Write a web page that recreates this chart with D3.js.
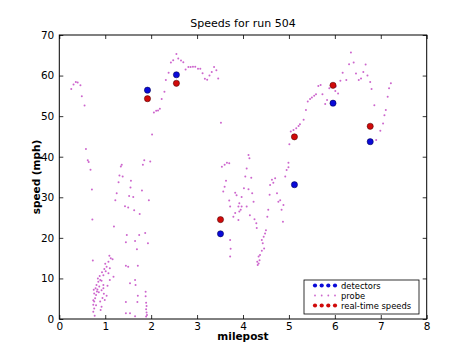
<!DOCTYPE html>
<html><head><meta charset="utf-8">
<script src="https://cdn.jsdelivr.net/npm/d3@7"></script>
<style>body{margin:0;background:#fff}svg{display:block;font-family:"DejaVu Sans",sans-serif}</style>
</head><body><svg id="c" width="474" height="355"></svg>
<script>
const xTicks=[0,1,2,3,4,5,6,7,8];
const yTicks=[0,10,20,30,40,50,60,70];
const detX=[1.92,2.55,3.51,5.12,5.96,6.77];
const detY=[56.4,60.2,21.0,33.1,53.2,43.7];
const rtX=[1.92,2.55,3.51,5.12,5.96,6.77];
const rtY=[54.3,58.1,24.5,44.9,57.6,47.5];
const probeX=[0.26,0.31,0.36,0.40,0.46,0.49,0.55,0.58,0.62,0.64,0.68,0.71,0.72,0.73,0.76,
1.09,1.12,1.16,1.07,1.03,1.10,1.01,1.07,0.96,0.89,0.92,0.85,0.81,0.87,0.83,0.92,0.96,0.80,0.78,0.76,0.74,0.76,0.74,0.89,0.92,0.99,1.03,1.10,1.18,0.96,
0.84,0.88,0.93,0.98,1.00,0.86,0.82,0.79,0.75,0.77,0.90,0.94,0.97,1.05,0.80,0.74,
1.25,1.22,1.29,1.31,1.34,1.36,1.38,1.43,1.47,1.45,1.19,1.50,1.56,1.55,1.61,1.52,1.63,1.75,1.80,1.95,1.65,1.69,1.74,1.87,1.93,1.45,1.71,1.50,1.54,1.45,1.54,1.45,1.65,1.66,1.71,1.70,1.65,1.88,1.88,1.89,1.90,1.89,1.90,1.91,1.89,1.82,1.85,1.98,2.02,
2.06,2.11,2.15,2.19,2.23,2.29,2.32,2.38,2.43,2.48,2.55,2.59,2.65,2.70,2.75,2.81,2.86,2.91,2.96,3.02,3.07,3.12,3.17,3.22,3.27,3.32,3.37,3.42,3.46,3.52,3.54,3.60,3.65,
3.70,3.63,3.60,3.57,3.83,3.86,3.97,4.02,4.12,4.20,4.23,3.92,3.97,4.08,3.72,3.90,3.95,3.92,3.79,3.90,3.83,3.70,4.15,4.25,4.29,4.30,3.72,3.73,3.72,
4.12,4.14,4.08,4.05,4.18,
4.50,4.48,4.45,4.41,4.43,4.46,4.41,4.37,4.34,4.36,4.34,4.32,4.31,
4.55,4.53,4.59,4.63,4.66,4.70,4.58,4.74,4.77,4.81,4.84,4.88,4.87,4.92,4.95,4.99,4.99,5.01,
5.04,5.10,5.16,5.21,5.24,5.32,5.37,5.41,5.46,5.50,5.55,5.59,5.64,5.69,5.73,5.79,5.83,5.88,6.01,6.07,6.02,
6.12,6.17,6.25,6.31,6.35,6.41,6.46,6.52,6.57,6.62,6.67,6.71,6.77,6.80,6.86,6.90,6.99,7.05,7.08,7.11,7.15,7.18,7.22];
const probeY=[56.7,57.8,58.4,58.3,57.6,54.9,52.6,41.9,39.1,38.7,36.8,31.9,24.5,14.4,6.3,
15.6,15.0,14.7,14.1,12.9,12.5,11.8,11.3,10.8,9.6,9.4,9.2,8.4,8.0,7.3,7.1,7.6,5.9,5.1,4.3,3.5,2.6,1.8,4.3,3.0,4.7,5.7,9.6,10.4,8.4,
10.0,10.6,11.5,12.3,13.6,6.6,6.8,7.6,7.2,0.8,2.2,5.2,6.2,8.2,3.4,4.6,
31.0,29.3,33.7,35.4,37.6,38.0,35.1,27.8,20.7,18.9,22.8,27.5,34.1,32.4,30.1,30.3,26.8,25.9,31.7,29.3,19.2,17.2,20.7,21.2,18.7,13.1,13.1,12.9,8.8,4.2,1.4,1.4,9.6,8.4,5.7,4.2,0.7,6.7,5.6,4.0,3.2,2.4,1.6,1.0,0.6,38.0,39.1,38.8,45.5,
50.9,51.3,51.4,51.8,54.2,56.0,58.9,60.7,63.2,63.8,65.3,64.2,63.7,63.3,61.5,62.1,62.1,62.2,62.2,61.7,61.7,60.6,59.2,59.0,60.0,60.9,62.1,61.3,59.3,48.4,37.5,38.0,38.5,
38.4,34.1,32.6,31.4,31.1,30.5,30.1,32.2,32.0,31.0,28.9,28.5,27.7,27.7,27.7,27.7,26.9,26.5,25.2,24.4,26.1,29.2,25.6,24.6,23.6,22.4,19.5,17.3,15.4,
40.4,39.6,37.1,35.1,34.8,
21.9,21.1,20.3,19.5,18.7,17.4,16.8,15.8,15.4,14.5,13.7,13.3,14.1,
26.9,25.2,33.0,34.3,33.6,34.7,30.6,31.0,28.9,29.3,26.9,28.1,24.0,35.1,36.7,37.4,38.5,43.1,
46.2,46.6,47.0,47.6,48.0,49.1,51.5,53.6,54.2,54.6,55.0,55.4,57.4,57.7,55.4,53.0,54.0,56.9,56.2,55.6,57.3,
58.7,60.7,58.9,62.8,65.7,63.2,60.5,58.9,59.3,60.9,62.7,60.0,58.4,56.7,52.7,44.1,46.4,48.2,50.2,51.5,54.8,56.9,58.1];

const svg=d3.select("#c");
const L=59.3,R=426.7,T=35,B=319;
const x=d3.scaleLinear().domain([0,8]).range([L,R]);
const y=d3.scaleLinear().domain([0,70]).range([B,T]);
const fs=10.5;

// probe
const probe=d3.zip(probeX,probeY);
svg.append("g").selectAll("circle").data(probe).join("circle")
 .attr("cx",d=>x(d[0])).attr("cy",d=>y(d[1])).attr("r",1.0)
 .attr("fill","#c040c0").attr("opacity",0.8);
// detectors
svg.append("g").selectAll("circle").data(d3.zip(detX,detY)).join("circle")
 .attr("cx",d=>x(d[0])).attr("cy",d=>y(d[1])).attr("r",3.1)
 .attr("fill","#0a0ad8").attr("stroke","#000040").attr("stroke-width",0.5);
svg.append("g").selectAll("circle").data(d3.zip(rtX,rtY)).join("circle")
 .attr("cx",d=>x(d[0])).attr("cy",d=>y(d[1])).attr("r",3.1)
 .attr("fill","#d00a0a").attr("stroke","#400000").attr("stroke-width",0.5);

// axes (ticks inward, all four sides)
const tl=4;
const gb=svg.append("g").attr("transform",`translate(0,${B})`)
 .call(d3.axisBottom(x).tickValues(xTicks).tickSize(-tl).tickFormat(d3.format("d")));
const gt=svg.append("g").attr("transform",`translate(0,${T})`)
 .call(d3.axisTop(x).tickValues(xTicks).tickSize(-tl).tickFormat(""));
const gl=svg.append("g").attr("transform",`translate(${L},0)`)
 .call(d3.axisLeft(y).tickValues(yTicks).tickSize(-tl).tickPadding(5).tickFormat(d3.format("d")));
const gr=svg.append("g").attr("transform",`translate(${R},0)`)
 .call(d3.axisRight(y).tickValues(yTicks).tickSize(-tl).tickFormat(""));
[gb,gt,gl,gr].forEach(g=>{g.select(".domain").remove();g.selectAll("line").attr("stroke","#000").attr("stroke-width",0.8);
 g.selectAll("text").attr("font-size",fs).attr("font-family","DejaVu Sans").attr("fill","#000");});
gb.selectAll("text").attr("y",10.5).attr("dy",0);
svg.append("rect").attr("x",L).attr("y",T).attr("width",R-L).attr("height",B-T)
 .attr("fill","none").attr("stroke","#000").attr("stroke-width",1);

// labels
svg.append("text").attr("x",(L+R)/2).attr("y",27).attr("text-anchor","middle").attr("font-size",11).text("Speeds for run 504");
svg.append("text").attr("x",(L+R)/2).attr("y",340).attr("text-anchor","middle").attr("font-size",fs).attr("font-weight","bold").text("milepost");
svg.append("text").attr("transform",`translate(40,${(T+B)/2}) rotate(-90)`).attr("text-anchor","middle").attr("font-size",fs).attr("font-weight","bold").text("speed (mph)");

// legend
const lg=svg.append("g");
lg.append("rect").attr("x",304).attr("y",280).attr("width",115).attr("height",34).attr("fill","#fff").attr("stroke","#000").attr("stroke-width",0.8);
const items=[{t:"detectors",c:"#0a0ad8",r:2.1},{t:"probe",c:"#c040c0",r:0.9},{t:"real-time speeds",c:"#d00a0a",r:2.1}];
items.forEach((it,i)=>{
 const yy=285.5+i*10;
 [315,321.7,328.3,335].forEach(xx=>lg.append("circle").attr("cx",xx).attr("cy",yy).attr("r",it.r).attr("fill",it.c).attr("opacity",it.r<1?0.8:1));
 lg.append("text").attr("x",341).attr("y",yy+3).attr("font-size",8.4).text(it.t);
});
</script></body></html>
